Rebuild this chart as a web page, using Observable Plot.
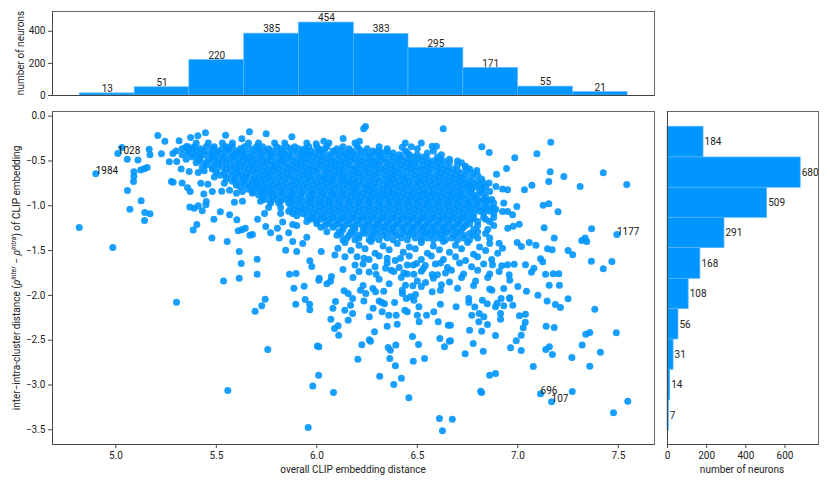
<!DOCTYPE html>
<html>
<head>
<meta charset="utf-8">
<script src="https://cdn.jsdelivr.net/npm/d3@7"></script>
<script src="https://cdn.jsdelivr.net/npm/@observablehq/plot@0.6"></script>
<style>
  html, body { margin: 0; padding: 0; background: #fff; }
  #chart { position: relative; width: 830px; height: 485px; font-family: Roboto, "DejaVu Sans", sans-serif; color: #222; }
  #chart svg { position: absolute; overflow: visible; }
  .lbl { position: absolute; font-size: 10px; white-space: nowrap; color: #222; }
  .rot { transform: translate(-50%, -50%) rotate(-90deg); }
  .hz { transform: translate(-50%, -50%); }
  sup { font-size: 7px; font-style: italic; vertical-align: 4px; line-height: 0; }
</style>
</head>
<body>
<div id="chart"></div>
<script>
const topEdges = [4.821, 5.094, 5.366, 5.639, 5.911, 6.184, 6.456, 6.729, 7.001, 7.274, 7.546];
const topCounts = [13, 51, 220, 385, 454, 383, 295, 171, 55, 21];
const rightEdges = [-0.118, -0.461, -0.799, -1.134, -1.473, -1.815, -2.154, -2.492, -2.830, -3.170, -3.508];
const rightCounts = [184, 680, 509, 291, 168, 108, 56, 31, 14, 7];

// ---- Tick values ----
const topYTicks = [0, 200, 400];
const mainXTicks = [5.0, 5.5, 6.0, 6.5, 7.0, 7.5];
const mainYTicks = [0, -0.5, -1.0, -1.5, -2.0, -2.5, -3.0, -3.5];
const rightXTicks = [0, 200, 400, 600];

// ---- Labelled neurons ----
const labeledIds = ["1028", "1984", "1177", "696", "107"];
const labeledX = [5.01, 4.90, 7.493, 7.113, 7.168];
const labeledY = [-0.416, -0.643, -1.32, -3.098, -3.188];

// ---- Scattered (individually read) neurons: [distance, inter-intra] ----
const scatteredPoints = [
[4.818,-1.242],[4.985,-1.465],[5.03,-0.35],[5.057,-0.48],[5.09,-0.62],[5.09,-0.67],[5.088,-0.73],[5.058,-0.83],[5.07,-1.04],[5.126,-0.944],[5.144,-1.075],[5.17,-1.09],[5.143,-1.164],[5.11,-0.49],[5.124,-0.60],[5.141,-0.587],[5.156,-0.573],[5.166,-0.368],[5.17,-0.43],[5.209,-0.215],[5.227,-0.42],[5.244,-0.28],[5.266,-0.51],[5.277,-0.73],[5.285,-0.737],[5.284,-0.416],[5.315,-0.275],[5.372,-0.238],[5.408,-0.219],[5.446,-0.186],[5.546,-0.212],[5.627,-0.252],[5.665,-0.175],[5.368,-1.015],[5.39,-1.027],[5.41,-1.0],[5.43,-1.056],[5.448,-0.989],[5.45,-0.952],[5.403,-1.21],[5.385,-1.27],[5.488,-1.15],[5.478,-1.36],[5.52,-1.067],[5.566,-1.1],[5.554,-1.398],[5.602,-1.157],[5.614,-1.51],[5.624,-1.644],[5.614,-1.81],[5.536,-1.84],[5.627,-1.268],[5.644,-1.25],[5.667,-1.33],[5.609,-1.28],[5.59,-0.96],[5.566,-0.826],[5.527,-0.837],[5.48,-0.84],[5.438,-0.87],[5.37,-0.84],[5.357,-0.80],[5.33,-0.745],[5.458,-0.76],[5.423,-0.748],[5.41,-0.628],[5.365,-0.617],[5.325,-0.59],[5.303,-0.505],[5.357,-0.338],
[6.242,-0.115],[6.233,-0.14],[6.629,-0.14],[6.212,-0.279],[6.131,-0.249],[6.035,-0.279],[5.997,-0.308],[5.876,-0.23],[5.748,-0.197],[6.574,-0.335],[6.595,-0.335],[6.425,-0.346],[5.703,-1.596],[5.703,-1.763],[5.845,-1.495],[5.9,-1.51],[5.864,-1.763],[5.897,-1.756],[5.965,-1.614],[5.975,-1.677],[6.012,-1.81],[6.073,-1.79],[6.022,-1.51],[6.105,-1.473],[6.14,-1.57],[6.19,-1.66],[6.235,-1.585],[6.21,-1.733],[6.295,-1.763],[6.35,-1.585],[6.342,-1.697],[6.416,-1.585],[6.45,-1.66],[6.496,-1.644],[6.54,-1.667],[6.615,-1.64],[6.574,-1.767],[6.64,-1.75],[6.433,-1.75],[6.483,-1.763],[6.383,-1.733],
[5.705,-1.15],[5.68,-1.32],[5.746,-1.23],[5.804,-1.25],[5.813,-1.36],[5.77,-1.30],[5.86,-1.30],[5.88,-1.40],[5.93,-1.42],[5.95,-1.35],[5.83,-1.18],[5.88,-1.21],
[7.164,-0.29],[6.821,-0.342],[6.858,-0.405],[6.985,-0.464],[7.095,-0.42],[7.425,-0.632],[7.542,-0.762],[7.161,-0.62],[7.229,-0.673],[7.154,-0.729],[7.31,-0.785],[7.07,-0.77],[7.033,-0.82],[6.944,-0.584],[6.894,-0.647],[6.796,-0.606],[6.74,-0.56],[7.126,-0.993],[7.154,-0.978],[7.2,-1.067],[6.995,-1.008],[7.131,-1.245],[7.181,-1.36],[7.367,-1.257],[7.318,-1.387],[7.335,-1.36],[7.343,-1.398],[7.007,-1.205],[6.977,-1.228],[6.95,-1.25],[6.997,-1.41],[7.018,-1.454],[7.057,-1.41],[7.09,-1.44],[7.148,-1.48],[7.171,-1.49],[7.25,-1.499],[7.273,-1.547],[7.366,-1.618],[7.468,-1.622],[7.425,-1.703],[7.113,-1.592],[7.124,-1.625],[7.038,-1.659],[7.08,-1.697],[7.068,-1.741],[7.138,-1.763],[7.176,-1.759],[7.204,-1.759],
[6.857,-0.747],[6.891,-0.785],[6.924,-0.814],[6.949,-0.822],[6.841,-1.027],[6.882,-1.027],[6.924,-1.063],[6.949,-1.063],[6.974,-1.10],[6.907,-1.417],[6.924,-1.473],[6.874,-1.659],[6.949,-1.659],[6.982,-1.652],[6.907,-1.733],[6.957,-1.77],
[5.693,-2.176],[5.726,-2.116],[5.743,-2.042],[5.756,-2.604],[5.886,-1.92],[5.937,-1.897],[5.895,-2.1],[5.942,-2.046],[5.964,-2.1],[5.965,-2.16],[6.01,-2.574],[6.003,-2.565],[6.009,-2.89],[5.98,-3.01],[6.083,-3.084],[5.957,-3.474],[6.07,-2.266],[6.08,-2.143],[6.093,-2.068],[6.088,-2.37],[6.106,-2.34],[6.109,-2.444],[6.156,-2.277],[6.139,-2.165],[6.178,-2.202],[6.168,-2.109],[6.136,-1.949],[6.156,-1.979],[6.178,-2.035],[6.204,-2.712],[6.224,-2.551],[6.261,-2.496],[6.267,-2.511],[6.287,-2.406],[6.261,-2.239],[6.234,-2.064],[6.244,-1.979],[6.217,-1.942],[6.28,-2.143],[6.31,-2.064],[6.323,-2.079],[6.337,-2.094],[6.325,-2.183],[6.387,-2.079],[6.35,-2.344],[6.355,-2.581],[6.366,-2.611],[6.393,-2.555],[6.363,-2.705],[6.391,-2.786],[6.313,-2.902],[6.383,-2.994],[6.421,-2.924],[6.458,-3.143],[6.48,-2.734],[6.476,-2.459],[6.506,-2.548],[6.536,-2.704],[6.4,-2.321],[6.358,-2.221],[6.395,-2.221],[6.438,-2.165],[6.45,-2.183],[6.5,-2.221],[6.508,-2.128],[6.509,-2.295],[6.546,-2.221],[6.582,-2.183],[6.604,-2.295],[6.612,-2.481],[6.635,-2.574],[6.61,-3.374],[6.625,-3.511],[6.426,-1.979],[6.445,-2.035],[6.483,-2.053],[6.491,-1.99],[6.541,-1.856],[6.574,-1.96],[6.615,-1.942],[6.615,-2.1],[6.654,-2.332],[6.659,-2.511],[6.292,-1.96],[6.279,-1.923],[6.333,-1.953],[6.425,-1.942],[6.466,-2.016],[6.441,-1.886],[6.478,-1.893],[6.068,-1.842],[6.01,-1.83],
[7.156,-1.886],[7.207,-1.886],[7.043,-1.953],[7.1,-1.998],[7.146,-2.064],[7.187,-2.101],[7.212,-2.135],[7.25,-2.038],[7.383,-2.154],[6.975,-2.109],[6.93,-2.116],[6.959,-2.035],[7.008,-2.228],[7.038,-2.21],[7.037,-2.299],[7.027,-2.362],[7.017,-2.444],[6.992,-2.507],[6.964,-2.585],[7.017,-2.615],[6.889,-2.447],[6.828,-2.623],[6.778,-2.537],[6.738,-2.652],[6.76,-2.388],[6.82,-2.4],[6.849,-2.325],[6.914,-2.266],[6.914,-2.202],[6.889,-2.128],[6.897,-2.087],[6.917,-2.035],[6.96,-2.027],[6.93,-1.923],[6.871,-1.942],[6.848,-2.094],[6.824,-2.053],[6.786,-2.131],[6.771,-2.221],[6.808,-2.202],[6.831,-2.239],[6.806,-2.295],[6.756,-2.035],[6.756,-2.079],[6.693,-2.128],[6.665,-2.332],[6.665,-2.507],[6.674,-3.382],[6.82,-3.084],[6.815,-3.069],[6.86,-2.89],[6.889,-2.872],[7.077,-2.794],[7.141,-2.344],[7.181,-2.358],[7.139,-2.604],[7.157,-2.574],[7.172,-2.66],[7.269,-2.693],[7.32,-2.555],[7.338,-2.433],[7.358,-2.414],[7.411,-2.634],[7.358,-2.79],[7.49,-2.418],[7.271,-3.073],[7.476,-3.311],[7.547,-3.181],
[5.302,-2.076],[5.557,-3.061]
];

// ---- Lower, thinning part of the cloud (read individually) ----
const lowerCloud = [
[6.14,-1.41],[6.21,-1.44],[6.27,-1.40],[6.33,-1.45],[6.40,-1.42],[6.46,-1.46],[6.52,-1.41],[6.58,-1.45],[6.63,-1.40],[6.69,-1.44],[6.75,-1.41],[6.81,-1.46],[6.86,-1.42],
[6.17,-1.50],[6.24,-1.48],[6.29,-1.53],[6.36,-1.49],[6.43,-1.52],[6.49,-1.48],[6.55,-1.53],[6.61,-1.49],[6.66,-1.52],[6.72,-1.48],[6.78,-1.54],[6.84,-1.50],[6.90,-1.53],
[6.09,-1.55],[6.20,-1.57],[6.26,-1.60],[6.31,-1.56],[6.39,-1.61],[6.46,-1.56],[6.52,-1.60],[6.57,-1.56],[6.63,-1.60],[6.69,-1.57],[6.74,-1.61],[6.80,-1.57],[6.87,-1.60],
[6.23,-1.65],[6.29,-1.68],[6.35,-1.64],[6.41,-1.69],[6.48,-1.66],[6.53,-1.70],[6.59,-1.65],[6.65,-1.69],[6.71,-1.64],[6.77,-1.68],[6.83,-1.65],[6.92,-1.67],
[6.13,-1.71],[6.26,-1.74],[6.37,-1.72],[6.45,-1.76],[6.52,-1.73],[6.60,-1.77],[6.67,-1.72],[6.73,-1.76],[6.80,-1.72],[6.86,-1.76],
[6.18,-1.80],[6.31,-1.82],[6.42,-1.80],[6.50,-1.84],[6.58,-1.81],[6.66,-1.85],[6.72,-1.80],[6.79,-1.84],[6.85,-1.80],[6.96,-1.83],
[6.05,-1.87],[6.23,-1.89],[6.36,-1.87],[6.52,-1.90],[6.62,-1.88],[6.70,-1.92],[6.78,-1.89],[6.86,-1.93],[7.00,-1.90]
];

// ---- Dense cloud, read row by row: [inter-intra, [distances]] ----
const cloudRows = [
[-0.30,[5.40,5.46,5.53,5.58,5.66,5.71,5.79,5.84,5.95,6.06,6.19,6.44,6.52]],
[-0.34,[5.35,5.39,5.45,5.49,5.55,5.58,5.64,5.70,5.73,5.80,5.85,5.89,5.96,6.00,6.05,6.13,6.20,6.31,6.47]],
[-0.365,[5.33,5.38,5.42,5.48,5.53,5.56,5.62,5.67,5.71,5.76,5.82,5.87,5.91,5.94,6.01,6.04,6.10,6.16,6.21,6.25,6.35,6.50]],
[-0.39,[5.30,5.36,5.40,5.44,5.51,5.55,5.60,5.63,5.69,5.74,5.78,5.83,5.88,5.93,5.97,6.02,6.08,6.12,6.17,6.22,6.28,6.31,6.35,6.44,6.58]],
[-0.41,[5.36,5.42,5.47,5.50,5.57,5.61,5.65,5.71,5.76,5.80,5.84,5.90,5.95,5.99,6.03,6.09,6.14,6.18,6.24,6.29,6.33,6.38,6.45,6.55]],
[-0.43,[5.33,5.39,5.44,5.48,5.53,5.59,5.63,5.68,5.73,5.77,5.82,5.86,5.92,5.96,6.01,6.06,6.11,6.15,6.20,6.26,6.31,6.36,6.41,6.46,6.50,6.62]],
[-0.455,[5.38,5.42,5.49,5.54,5.58,5.64,5.67,5.72,5.78,5.83,5.87,5.93,5.98,6.03,6.07,6.13,6.17,6.22,6.27,6.32,6.38,6.42,6.48,6.53,6.60]],
[-0.48,[5.35,5.41,5.46,5.51,5.56,5.61,5.66,5.70,5.75,5.81,5.85,5.90,5.95,6.00,6.05,6.10,6.15,6.19,6.25,6.30,6.34,6.40,6.45,6.50,6.55,6.61,6.66]],
[-0.50,[5.42,5.48,5.53,5.59,5.63,5.68,5.73,5.77,5.83,5.88,5.92,5.97,6.02,6.08,6.12,6.17,6.22,6.28,6.32,6.37,6.43,6.47,6.52,6.58,6.63,6.70]],
[-0.52,[5.40,5.45,5.50,5.55,5.61,5.65,5.70,5.75,5.80,5.84,5.90,5.94,6.00,6.05,6.09,6.14,6.20,6.25,6.29,6.35,6.40,6.45,6.49,6.55,6.60,6.66,6.72]],
[-0.545,[5.45,5.51,5.57,5.62,5.67,5.72,5.78,5.82,5.87,5.92,5.97,6.02,6.07,6.11,6.16,6.22,6.27,6.31,6.37,6.42,6.47,6.53,6.57,6.62,6.70]],
[-0.57,[5.43,5.48,5.53,5.59,5.64,5.69,5.74,5.79,5.85,5.89,5.94,5.99,6.04,6.09,6.14,6.19,6.24,6.29,6.34,6.39,6.44,6.50,6.55,6.60,6.65,6.74]],
[-0.59,[5.48,5.55,5.60,5.66,5.71,5.76,5.81,5.86,5.91,5.96,6.01,6.06,6.12,6.17,6.21,6.26,6.32,6.36,6.42,6.47,6.52,6.57,6.63,6.68,6.76]],
[-0.61,[5.44,5.50,5.57,5.62,5.68,5.73,5.78,5.83,5.88,5.93,5.98,6.04,6.09,6.13,6.19,6.24,6.29,6.34,6.39,6.45,6.49,6.54,6.60,6.65,6.70,6.75]],
[-0.635,[5.50,5.54,5.60,5.65,5.70,5.75,5.80,5.85,5.90,5.95,6.00,6.06,6.11,6.16,6.21,6.26,6.31,6.37,6.41,6.47,6.52,6.56,6.62,6.67,6.72,6.78]],
[-0.66,[5.52,5.58,5.63,5.67,5.73,5.77,5.83,5.87,5.93,5.97,6.03,6.08,6.13,6.18,6.23,6.28,6.34,6.38,6.43,6.49,6.54,6.59,6.64,6.69,6.74,6.80]],
[-0.68,[5.49,5.55,5.61,5.65,5.71,5.76,5.81,5.86,5.91,5.96,6.01,6.05,6.10,6.15,6.20,6.26,6.30,6.36,6.40,6.45,6.51,6.56,6.61,6.66,6.71,6.77]],
[-0.70,[5.55,5.59,5.64,5.69,5.74,5.79,5.84,5.89,5.94,5.99,6.04,6.08,6.13,6.18,6.23,6.28,6.33,6.38,6.43,6.48,6.53,6.58,6.63,6.68,6.73,6.82]],
[-0.725,[5.58,5.63,5.68,5.72,5.77,5.82,5.88,5.92,5.97,6.02,6.07,6.12,6.16,6.21,6.26,6.31,6.36,6.41,6.46,6.51,6.56,6.61,6.66,6.71,6.76,6.80]],
[-0.75,[5.54,5.60,5.66,5.70,5.75,5.80,5.85,5.90,5.95,6.00,6.05,6.10,6.15,6.19,6.24,6.29,6.35,6.39,6.44,6.50,6.54,6.59,6.64,6.69,6.74,6.78,6.83]],
[-0.77,[5.60,5.64,5.69,5.73,5.78,5.83,5.88,5.93,5.98,6.03,6.08,6.13,6.18,6.22,6.27,6.33,6.37,6.42,6.47,6.52,6.57,6.62,6.67,6.72,6.76,6.81]],
[-0.79,[5.62,5.67,5.71,5.76,5.81,5.86,5.91,5.96,6.01,6.06,6.11,6.16,6.20,6.25,6.30,6.35,6.40,6.45,6.50,6.55,6.60,6.65,6.70,6.75,6.79,6.84]],
[-0.815,[5.66,5.70,5.74,5.79,5.84,5.89,5.94,5.99,6.04,6.09,6.14,6.19,6.24,6.28,6.33,6.38,6.43,6.48,6.53,6.58,6.63,6.68,6.73,6.77,6.82]],
[-0.84,[5.63,5.68,5.72,5.77,5.82,5.87,5.92,5.97,6.02,6.07,6.12,6.17,6.21,6.26,6.31,6.36,6.41,6.46,6.51,6.56,6.61,6.66,6.71,6.76,6.81,6.86]],
[-0.86,[5.60,5.68,5.74,5.78,5.83,5.88,5.93,5.98,6.03,6.08,6.13,6.18,6.23,6.28,6.33,6.38,6.43,6.48,6.53,6.58,6.63,6.68,6.72,6.77,6.83]],
[-0.88,[5.71,5.76,5.80,5.86,5.90,5.96,6.00,6.05,6.10,6.15,6.20,6.25,6.30,6.35,6.40,6.45,6.50,6.55,6.60,6.65,6.70,6.75,6.80]],
[-0.905,[5.73,5.78,5.83,5.87,5.92,5.97,6.02,6.07,6.12,6.17,6.22,6.27,6.32,6.37,6.42,6.47,6.52,6.57,6.62,6.67,6.72,6.78,6.84]],
[-0.93,[5.74,5.80,5.85,5.89,5.95,5.99,6.04,6.09,6.14,6.19,6.24,6.29,6.34,6.39,6.44,6.49,6.54,6.59,6.64,6.69,6.74,6.79,6.83,6.87]],
[-0.95,[5.63,5.72,5.77,5.82,5.87,5.92,5.97,6.02,6.06,6.11,6.16,6.21,6.26,6.31,6.36,6.41,6.46,6.51,6.56,6.61,6.66,6.71,6.76,6.81,6.85]],
[-0.97,[5.77,5.81,5.86,5.91,5.96,6.01,6.06,6.11,6.16,6.21,6.26,6.31,6.36,6.40,6.45,6.50,6.55,6.60,6.65,6.70,6.75,6.80,6.84,6.88,6.93]],
[-0.995,[5.89,5.94,5.99,6.04,6.08,6.13,6.18,6.23,6.28,6.33,6.38,6.43,6.48,6.53,6.58,6.63,6.68,6.73,6.78,6.84]],
[-1.02,[5.76,5.82,5.87,5.92,5.97,6.02,6.07,6.11,6.16,6.21,6.26,6.31,6.36,6.41,6.46,6.51,6.56,6.61,6.66,6.71,6.76,6.81,6.87]],
[-1.04,[5.89,5.94,5.99,6.04,6.09,6.14,6.19,6.24,6.29,6.34,6.39,6.44,6.49,6.54,6.59,6.64,6.69,6.74,6.79,6.84,6.89]],
[-1.06,[5.86,5.91,5.96,6.01,6.06,6.11,6.16,6.21,6.26,6.31,6.36,6.41,6.46,6.51,6.56,6.61,6.66,6.71,6.76,6.81,6.86]],
[-1.085,[5.74,5.82,5.88,5.93,5.98,6.03,6.08,6.13,6.18,6.23,6.28,6.33,6.38,6.43,6.48,6.53,6.58,6.63,6.68,6.73,6.78,6.83,6.88]],
[-1.11,[5.90,5.95,6.00,6.05,6.10,6.15,6.20,6.25,6.30,6.35,6.40,6.45,6.50,6.55,6.60,6.65,6.70,6.75]],
[-1.13,[5.98,6.03,6.08,6.13,6.18,6.23,6.28,6.33,6.38,6.43,6.48,6.53,6.58,6.63,6.68,6.73,6.78,6.83,6.88]],
[-1.15,[5.97,6.02,6.07,6.12,6.17,6.22,6.27,6.32,6.37,6.42,6.47,6.52,6.57,6.62,6.67,6.72,6.77,6.84]],
[-1.175,[5.95,6.00,6.05,6.10,6.15,6.20,6.25,6.30,6.35,6.40,6.45,6.50,6.55,6.60,6.65,6.70,6.75,6.80,6.86]],
[-1.20,[6.00,6.06,6.11,6.16,6.21,6.26,6.31,6.36,6.41,6.46,6.51,6.56,6.61,6.66,6.71,6.76]],
[-1.22,[5.90,6.04,6.09,6.14,6.19,6.24,6.29,6.34,6.39,6.44,6.49,6.54,6.59,6.64,6.69,6.74,6.80,6.88]],
[-1.24,[6.02,6.08,6.13,6.18,6.23,6.28,6.33,6.38,6.43,6.48,6.53,6.58,6.63,6.68,6.73]],
[-1.265,[6.13,6.19,6.25,6.31,6.36,6.42,6.47,6.52,6.57,6.62,6.67,6.72,6.78,6.85]],
[-1.29,[6.05,6.11,6.17,6.23,6.28,6.34,6.39,6.45,6.50,6.55,6.60,6.65,6.70,6.80]],
[-1.31,[6.12,6.18,6.24,6.30,6.37,6.43,6.48,6.54,6.59,6.64,6.70,6.76,6.84]],
[-1.33,[6.10,6.16,6.21,6.27,6.33,6.40,6.46,6.52,6.57,6.62,6.68,6.73,6.78]],
[-1.36,[6.15,6.21,6.28,6.35,6.42,6.49,6.55,6.61,6.67,6.73,6.80,6.86]],
[-1.38,[6.13,6.19,6.26,6.31,6.38,6.45,6.52,6.58,6.64,6.70,6.76]]
];

// ---- Build tables for the marks ----
const BAR = "#0095ff";
const topBins = topCounts.map((c, i) => ({x1: topEdges[i], x2: topEdges[i + 1], count: c}));
const rightBins = rightCounts.map((c, i) => ({y1: rightEdges[i], y2: rightEdges[i + 1], count: c}));
const points = [];
for (const [y, xs] of cloudRows) for (const x of xs) points.push({x, y});
for (const [x, y] of lowerCloud) points.push({x, y});
for (const [x, y] of scatteredPoints) points.push({x, y});
const labeled = labeledIds.map((id, i) => ({id, x: labeledX[i], y: labeledY[i]}));
for (const d of labeled) points.push({x: d.x, y: d.y});

const XDOM = [4.685, 7.68];
const YDOM = [-3.664, 0.052];
const style = {fontFamily: "Roboto, 'DejaVu Sans', sans-serif", fontSize: "10px", color: "#222", background: "transparent", overflow: "visible"};
const fmt1 = d3.format(".1f");

const chart = document.getElementById("chart");

// Top histogram
const topPlot = Plot.plot({
  width: 660, height: 105,
  marginLeft: 52, marginRight: 6, marginTop: 11, marginBottom: 10,
  style,
  x: {domain: XDOM, axis: null},
  y: {domain: [0, 523]},
  marks: [
    Plot.rectY(topBins, {x1: "x1", x2: "x2", y: "count", fill: BAR, stroke: "#5ab6ff", strokeWidth: 0.7}),
    Plot.text(topBins, {x: d => (d.x1 + d.x2) / 2, y: "count", text: d => String(d.count), lineAnchor: "bottom", dy: -1.5, fill: "#222"}),
    Plot.frame({stroke: "#666"}),
    Plot.ruleX([XDOM[0]], {stroke: "#444"}),
    Plot.ruleY([0], {stroke: "#444"}),
    Plot.axisY({ticks: topYTicks, tickSize: 4, tickPadding: 3, label: null, tickFormat: d3.format("d"), stroke: "#444"})
  ]
});
topPlot.style.left = "0px"; topPlot.style.top = "0px";
chart.appendChild(topPlot);

// Main scatter
const mainPlot = Plot.plot({
  width: 660, height: 385,
  marginLeft: 52, marginRight: 6, marginTop: 11, marginBottom: 41,
  style,
  x: {domain: XDOM},
  y: {domain: YDOM},
  marks: [
    Plot.dot(points, {x: "x", y: "y", r: 3.5, fill: BAR, fillOpacity: 0.9, stroke: "none"}),
    Plot.text(labeled, {x: "x", y: "y", text: "id", textAnchor: "start", lineAnchor: "bottom", dy: 0.5, dx: 0, fill: "#111"}),
    Plot.frame({stroke: "#666"}),
    Plot.ruleX([XDOM[0]], {stroke: "#444"}),
    Plot.ruleY([YDOM[0]], {stroke: "#444"}),
    Plot.axisX({ticks: mainXTicks, tickSize: 4, tickPadding: 3, label: null, tickFormat: fmt1, stroke: "#444"}),
    Plot.axisY({ticks: mainYTicks, tickSize: 4, tickPadding: 3, label: null, tickFormat: fmt1, stroke: "#444"})
  ]
});
mainPlot.style.left = "0px"; mainPlot.style.top = "100px";
chart.appendChild(mainPlot);

// Right histogram
const rightPlot = Plot.plot({
  width: 170, height: 385,
  marginLeft: 7, marginRight: 12, marginTop: 11, marginBottom: 41,
  style,
  x: {domain: [0, 771]},
  y: {domain: YDOM, axis: null},
  marks: [
    Plot.rectX(rightBins, {y1: "y1", y2: "y2", x: "count", fill: BAR, stroke: "#5ab6ff", strokeWidth: 0.7}),
    Plot.text(rightBins, {x: "count", y: d => (d.y1 + d.y2) / 2, text: d => String(d.count), textAnchor: "start", dx: 1, fill: "#222"}),
    Plot.frame({stroke: "#666"}),
    Plot.ruleX([0], {stroke: "#444"}),
    Plot.ruleY([YDOM[0]], {stroke: "#444"}),
    Plot.axisX({ticks: rightXTicks, tickSize: 4, tickPadding: 3, label: null, tickFormat: d3.format("d"), stroke: "#444"})
  ]
});
rightPlot.style.left = "660px"; rightPlot.style.top = "100px";
chart.appendChild(rightPlot);

// Axis titles
function addLabel(html, cls, left, top) {
  const el = document.createElement("div");
  el.className = "lbl " + cls;
  el.style.left = left + "px";
  el.style.top = top + "px";
  el.innerHTML = html;
  chart.appendChild(el);
}
addLabel("number of neurons", "rot", 20, 53);
addLabel("inter\u2212intra-cluster distance (<i>\u03c1</i><sup>inter</sup> \u2212 <i>\u03c1</i><sup>intra</sup>) of CLIP embedding", "rot", 16, 278);
addLabel("overall CLIP embedding distance", "hz", 353, 469);
addLabel("number of neurons", "hz", 742, 469);
</script>
</body>
</html>
